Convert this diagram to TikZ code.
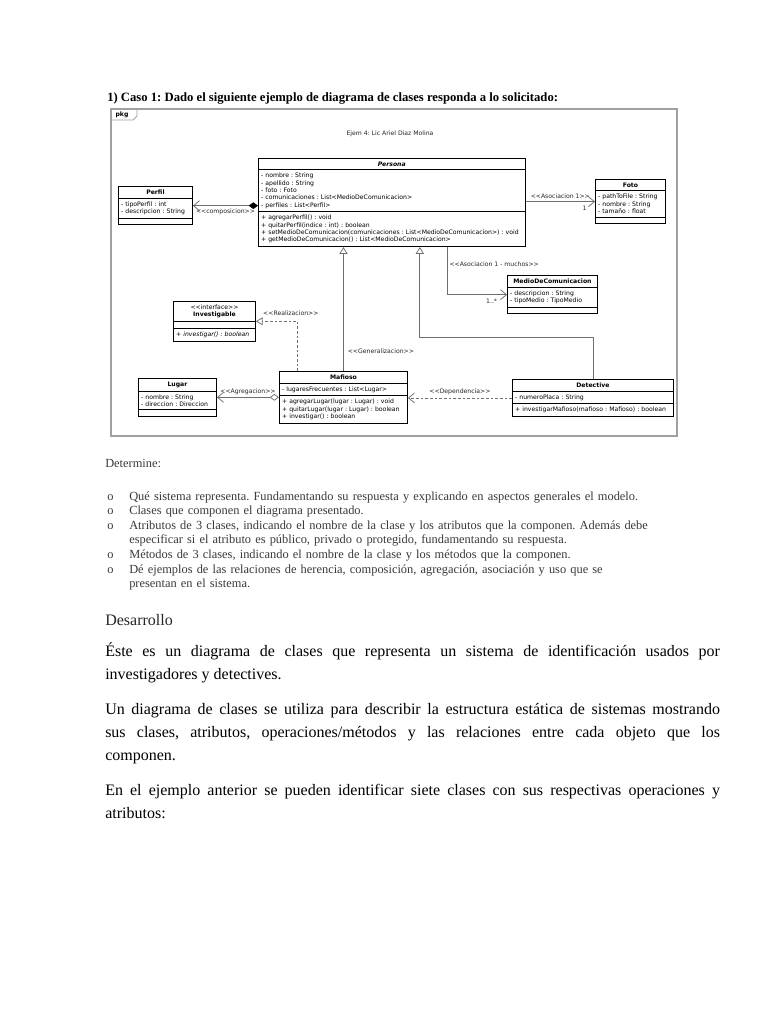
\documentclass[tikz,border=0pt]{standalone}
\usepackage{fontspec}
\setmainfont{Liberation Serif}
\newfontfamily\umlfont{DejaVu Sans}
\usetikzlibrary{arrows.meta,positioning,calc,shapes.multipart}
\definecolor{linegray}{HTML}{6E6E6E}
\definecolor{framegray}{HTML}{A0A0A0}
\definecolor{listgray}{HTML}{3A3A3A}
\newcommand{\umlsize}{\fontsize{4.6}{5.5}\selectfont}
\newcommand{\stereo}[1]{<{}<#1>{}>}
\hyphenpenalty=10000
\frenchspacing
\tikzset{
  umlclass/.style={rectangle split, rectangle split parts=3, draw=black, line width=.7pt, fill=white,
    inner xsep=2pt, inner ysep=2.2pt, font=\umlfont\umlsize, anchor=north west},
  elabel/.style={font=\umlfont\umlsize, text=black!85, inner sep=1pt},
  conn/.style={draw=linegray, line width=.55pt},
  assocline/.style={conn, -{Straight Barb[length=4.5pt,width=7.5pt]}},
  compoline/.style={conn, {Diamond[length=7pt,width=5pt,color=black]}-{Straight Barb[length=4.5pt,width=7.5pt]}},
  aggrline/.style={conn, {Diamond[open,length=7pt,width=5pt,fill=white]}-{Straight Barb[length=4.5pt,width=7.5pt]}},
  genline/.style={conn, -{Triangle[open,length=5pt,width=6pt,fill=white]}},
  realline/.style={genline, dash pattern=on 2pt off 1.5pt},
  depline/.style={assocline, dash pattern=on 2pt off 1.5pt},
  doctitle/.style={font=\fontsize{9.5}{11}\selectfont\bfseries, inner sep=0pt, anchor=base west},
  doclist/.style={font=\fontsize{9.3}{10.95}\selectfont, text=listgray, inner sep=0pt, anchor=base west,
    text width=440pt, align=left},
  dochead/.style={font=\fontsize{12}{17.25}\selectfont, text=black!85, inner sep=0pt, anchor=base west},
  docpar/.style={font=\fontsize{12}{17.25}\selectfont, inner sep=0pt, anchor=base west, text width=461pt, align=justify}
}

\begin{document}
\begin{tikzpicture}[x=0.75pt,y=-0.75pt]
  \fill[white] (0,0) rectangle (768,1024);
  \useasboundingbox (0,0) rectangle (768,1024);

  \node[doctitle] (title) at (107,101) {1) Caso 1: Dado el siguiente ejemplo de diagrama de clases responda a lo solicitado:};

  % package frame
  \draw[framegray, line width=.9pt] (111,109) rectangle (677,436);
  \draw[framegray, line width=.7pt] (111,120) -- (133,120) -- (137,116) -- (137,109);
  \node[font=\umlfont\bfseries\umlsize, inner sep=0pt] (pkg) at (122,114.5) {pkg};
  \node[elabel] (author) at (390,134) {Ejem 4: Lic Ariel Diaz Molina};

  % classes
  \node[umlclass, text width=196pt] (persona) at (258,158)
    {\centering\textbf{\textit{Persona}}\par
     \nodepart{second}- nombre : String\\- apellido : String\\- foto : Foto\\- comunicaciones : List<MedioDeComunicacion>\\- perfiles : List<Perfil>
     \nodepart{third}+ agregarPerfil() : void\\+ quitarPerfil(indice : int) : boolean\\+ setMedioDeComunicacion(comunicaciones : List<MedioDeComunicacion>) : void\\+ getMedioDeComunicacion() : List<MedioDeComunicacion>};
  \node[umlclass, text width=51.5pt] (perfil) at (118,186)
    {\centering\textbf{Perfil}\par
     \nodepart{second}- tipoPerfil : int\\- descripcion : String
     \nodepart{third}};
  \node[umlclass, text width=48.5pt] (foto) at (595,179)
    {\centering\textbf{Foto}\par
     \nodepart{second}- pathToFile : String\\- nombre : String\\- tamaño : float
     \nodepart{third}};
  \node[umlclass, text width=63.5pt] (medio) at (507,275)
    {\centering\textbf{MedioDeComunicacion}\par
     \nodepart{second}- descripcion : String\\- tipoMedio : TipoMedio
     \nodepart{third}};
  \node[umlclass, text width=57.5pt] (investigable) at (173,301)
    {\centering\stereo{interface}\\\textbf{Investigable}\par
     \nodepart{second}
     \nodepart{third}+ \textit{investigar() : boolean}};
  \node[umlclass, text width=92pt] (mafioso) at (279,371)
    {\centering\textbf{Mafioso}\par
     \nodepart{second}- lugaresFrecuentes : List<Lugar>
     \nodepart{third}+ agregarLugar(lugar : Lugar) : void\\+ quitarLugar(lugar : Lugar) : boolean\\+ investigar() : boolean};
  \node[umlclass, text width=54.5pt] (lugar) at (138,378)
    {\centering\textbf{Lugar}\par
     \nodepart{second}- nombre : String\\- direccion : Direccion
     \nodepart{third}};
  \node[umlclass, text width=116.75pt] (detective) at (512,379)
    {\centering\textbf{Detective}\par
     \nodepart{second}- numeroPlaca : String
     \nodepart{third}+ investigarMafioso(mafioso : Mafioso) : boolean};

  % relations
  \draw[compoline] (persona.west |- perfil.east) -- node[elabel, below=1pt] {\stereo{composicion}} (perfil.east);
  \draw[assocline] (persona.east |- foto.west) -- node[elabel, above=1pt] {\stereo{Asociacion 1}}
    node[elabel, pos=.85, below=2pt] {1} (foto.west);
  \draw[assocline] ($(persona.south)+(56,0)$) |- node[elabel, pos=.18, right] {\stereo{Asociacion 1 - muchos}}
    node[elabel, pos=.87, below=2pt] {1..*} (medio.west);
  \draw[genline] (mafioso.north) -- node[elabel, pos=.16, right=2pt] {\stereo{Generalizacion}} (mafioso.north |- persona.south);
  \draw[genline] (detective.north) |- ($(persona.south)+(28,90)$) -- ($(persona.south)+(28,0)$);
  \draw[realline] ($(mafioso.north)+(-46,0)$) |- node[elabel, pos=.58, above=3pt] {\stereo{Realizacion}} (investigable.east);
  \draw[aggrline] (mafioso.west) -- node[elabel, above=1pt] {\stereo{Agregacion}} (mafioso.west -| lugar.east);
  \draw[depline] (detective.west) -- node[elabel, above=1pt] {\stereo{Dependencia}} (detective.west -| mafioso.east);

  % questions
  \node[doclist] (determine) at (105,467) {Determine:};
  \node[doclist] (b1) at (107,500) {o};
  \node[doclist] (q1) at (129,500) {Qué sistema representa. Fundamentando su respuesta y explicando en aspectos generales el modelo.};
  \node[doclist] (b2) at (107,514.6) {o};
  \node[doclist] (q2) at (129,514.6) {Clases que componen el diagrama presentado.};
  \node[doclist] (b3) at (107,529.2) {o};
  \node[doclist] (q3) at (129,529.2) {Atributos de 3 clases, indicando el nombre de la clase y los atributos que la componen. Además debe\\especificar si el atributo es público, privado o protegido, fundamentando su respuesta.};
  \node[doclist] (b4) at (107,558.4) {o};
  \node[doclist] (q4) at (129,558.4) {Métodos de 3 clases, indicando el nombre de la clase y los métodos que la componen.};
  \node[doclist] (b5) at (107,573) {o};
  \node[doclist] (q5) at (129,573) {Dé ejemplos de las relaciones de herencia, composición, agregación, asociación y uso que se\\presentan en el sistema.};

  % answer
  \node[dochead] (desarrollo) at (105,625) {Desarrollo};
  \node[docpar] (par1) at (105,656) {Éste es un diagrama de clases que representa un sistema de identificación usados por\linebreak investigadores y detectives.};
  \node[docpar] (par2) at (105,714) {Un diagrama de clases se utiliza para describir la estructura estática de sistemas mostrando\linebreak sus clases, atributos, operaciones/métodos y las relaciones entre cada objeto que los\linebreak componen.};
  \node[docpar] (par3) at (105,795) {En el ejemplo anterior se pueden identificar siete clases con sus respectivas operaciones y\linebreak atributos:};
\end{tikzpicture}
\end{document}
